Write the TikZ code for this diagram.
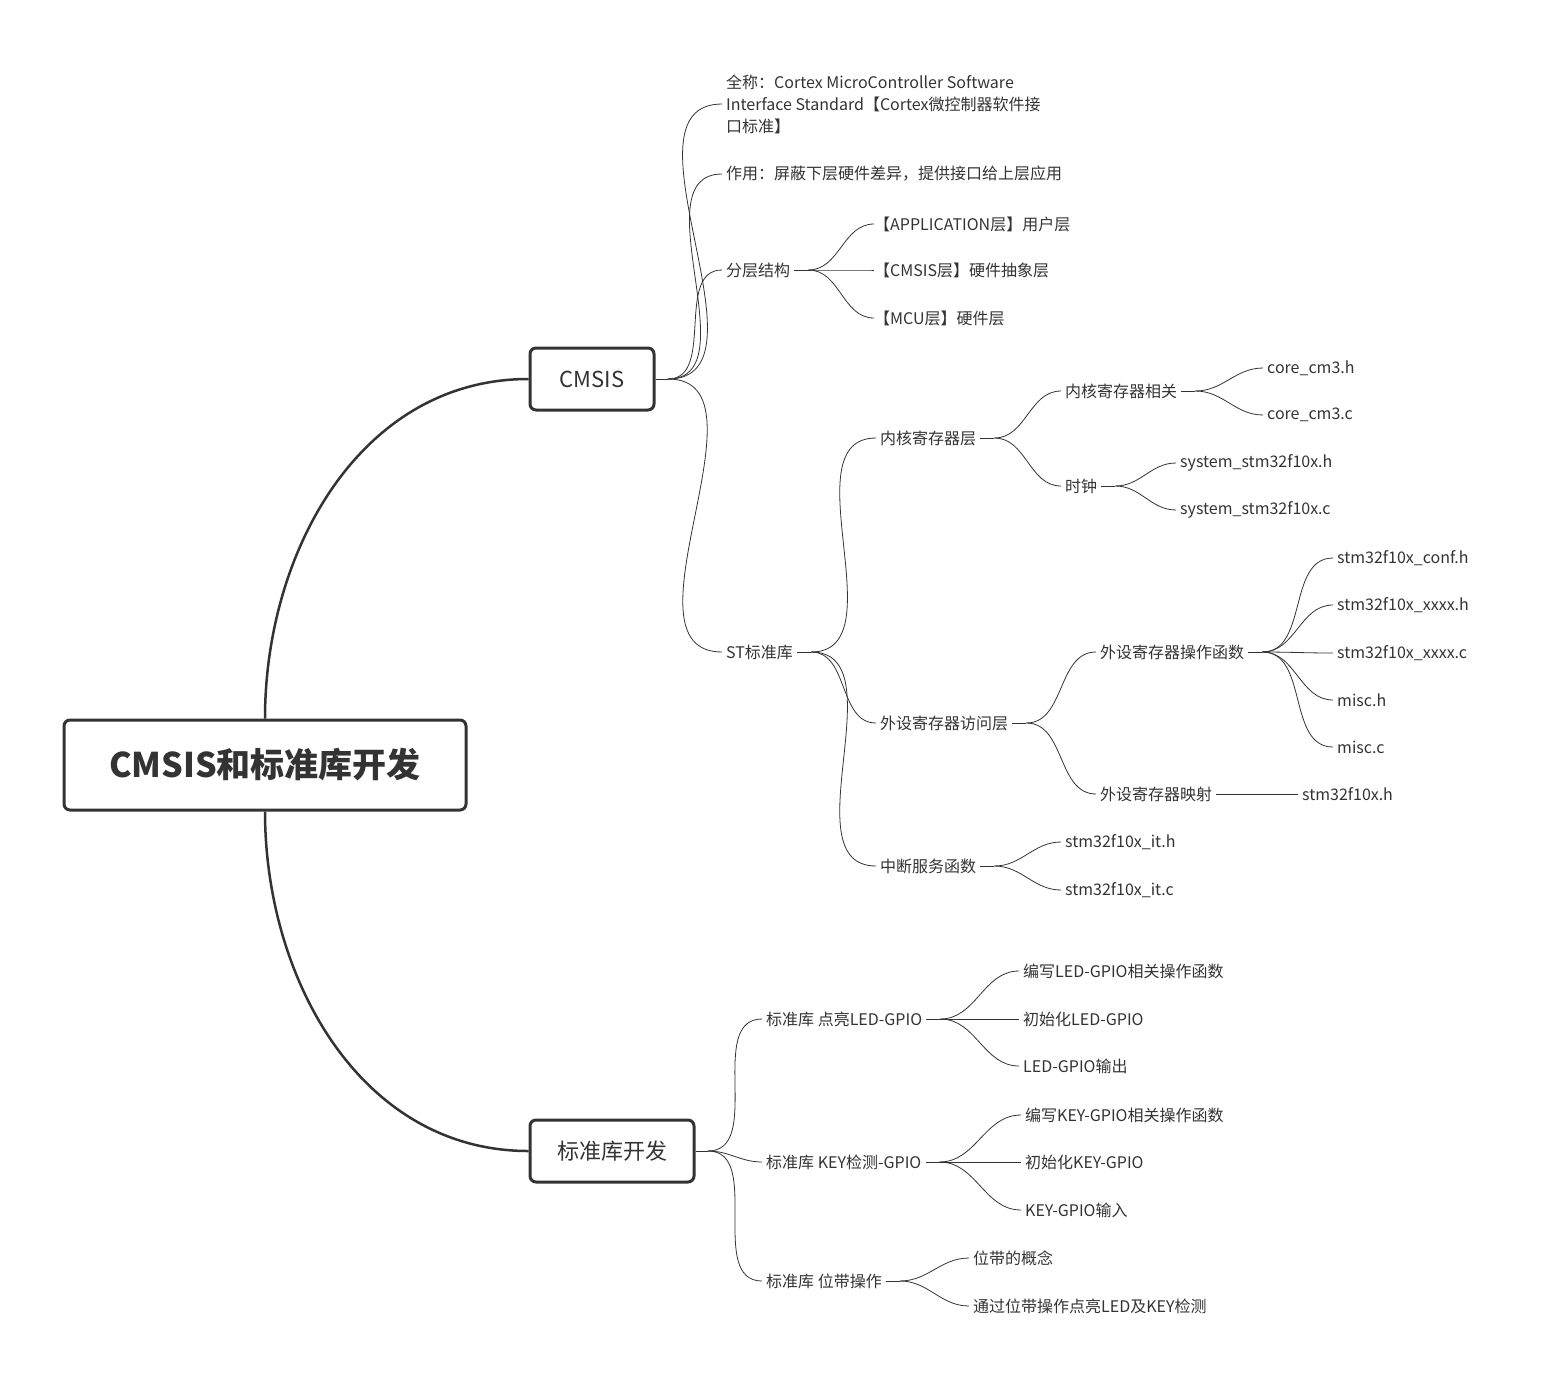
\documentclass[tikz,border=0pt]{standalone}
\usepackage{fontspec}
\setmainfont{Noto Sans CJK SC}
\definecolor{ink}{HTML}{333333}
\begin{document}
\begin{tikzpicture}[x=1pt,y=-1pt,
  t/.style={anchor=west,inner xsep=4pt,inner ysep=2pt,text=ink,font=\fontsize{16}{22}\selectfont},
  box/.style={draw=ink,line width=3pt,rounded corners=6pt,text=ink,fill=white},
  ln/.style={draw=ink,line width=0.8pt},
  br/.style={ln,out=0,in=180}]
\useasboundingbox (0,0) rectangle (1558,1387);
% root
\node[box,minimum width=402pt,minimum height=90pt,font=\fontsize{34}{40}\selectfont\bfseries] (root) at (265,765) {CMSIS和标准库开发};
\node[box,minimum width=124pt,minimum height=62pt,font=\fontsize{22}{26}\selectfont] (cmsis) at (592,379) {CMSIS};
\node[box,minimum width=164pt,minimum height=62pt,font=\fontsize{22}{26}\selectfont] (std) at (612,1151) {标准库开发};
\draw[ln,line width=2.5pt] (root.north) to[out=90,in=180] (cmsis.west);
\draw[ln,line width=2.5pt] (root.south) to[out=-90,in=180] (std.west);
% CMSIS branch
\coordinate (fc) at (668,379);
\draw[ln] (cmsis.east) -- (fc);
\node[t,align=left] (n1) at (722,104) {全称：Cortex MicroController Software\\Interface Standard【Cortex微控制器软件接\\口标准】};
\node[t] (n2) at (722,174) {作用：屏蔽下层硬件差异，提供接口给上层应用};
\node[t] (n3) at (722,270) {分层结构};
\node[t] (n4) at (722,652) {ST标准库};
\foreach \c in {n1,n2,n3,n4} \draw[br] (fc) to (\c.west);
% 分层结构
\coordinate (f3) at ([xshift=14pt]n3.east);
\draw[ln] (n3.east) -- (f3);
\node[t,inner xsep=0pt] (a1) at (874,224) {【APPLICATION层】用户层};
\node[t,inner xsep=0pt] (a2) at (874,270) {【CMSIS层】硬件抽象层};
\node[t,inner xsep=0pt] (a3) at (874,318) {【MCU层】硬件层};
\foreach \c in {a1,a2,a3} \draw[br] (f3) to (\c.west);
% ST标准库
\coordinate (f4) at ([xshift=14pt]n4.east);
\draw[ln] (n4.east) -- (f4);
\node[t] (b1) at (876,438) {内核寄存器层};
\node[t] (b2) at (876,723) {外设寄存器访问层};
\node[t] (b3) at (876,866) {中断服务函数};
\foreach \c in {b1,b2,b3} \draw[br] (f4) to (\c.west);
% 内核寄存器层
\coordinate (fb1) at ([xshift=14pt]b1.east);
\draw[ln] (b1.east) -- (fb1);
\node[t] (c1) at (1061,391) {内核寄存器相关};
\node[t] (c2) at (1061,486) {时钟};
\foreach \c in {c1,c2} \draw[br] (fb1) to (\c.west);
\coordinate (fc1) at ([xshift=14pt]c1.east);
\draw[ln] (c1.east) -- (fc1);
\node[t] (d1) at (1263,368) {core\_cm3.h};
\node[t] (d2) at (1263,415) {core\_cm3.c};
\foreach \c in {d1,d2} \draw[br] (fc1) to (\c.west);
\coordinate (fc2) at ([xshift=14pt]c2.east);
\draw[ln] (c2.east) -- (fc2);
\node[t] (d3) at (1176,463) {system\_stm32f10x.h};
\node[t] (d4) at (1176,510) {system\_stm32f10x.c};
\foreach \c in {d3,d4} \draw[br] (fc2) to (\c.west);
% 外设寄存器访问层
\coordinate (fb2) at ([xshift=14pt]b2.east);
\draw[ln] (b2.east) -- (fb2);
\node[t] (e1) at (1096,652) {外设寄存器操作函数};
\node[t] (e2) at (1096,794) {外设寄存器映射};
\foreach \c in {e1,e2} \draw[br] (fb2) to (\c.west);
\coordinate (fe1) at ([xshift=14pt]e1.east);
\draw[ln] (e1.east) -- (fe1);
\node[t] (g1) at (1333,558) {stm32f10x\_conf.h};
\node[t] (g2) at (1333,605) {stm32f10x\_xxxx.h};
\node[t] (g3) at (1333,653) {stm32f10x\_xxxx.c};
\node[t] (g4) at (1333,700) {misc.h};
\node[t] (g5) at (1333,747) {misc.c};
\foreach \c in {g1,g2,g3,g4,g5} \draw[br] (fe1) to (\c.west);
\node[t] (g6) at (1298,794) {stm32f10x.h};
\draw[ln] (e2.east) -- (g6.west);
% 中断服务函数
\coordinate (fb3) at ([xshift=14pt]b3.east);
\draw[ln] (b3.east) -- (fb3);
\node[t] (h1) at (1061,842) {stm32f10x\_it.h};
\node[t] (h2) at (1061,890) {stm32f10x\_it.c};
\foreach \c in {h1,h2} \draw[br] (fb3) to (\c.west);
% 标准库开发
\coordinate (fs) at (708,1151);
\draw[ln] (std.east) -- (fs);
\node[t] (s1) at (762,1019) {标准库 点亮LED-GPIO};
\node[t] (s2) at (762,1162) {标准库 KEY检测-GPIO};
\node[t] (s3) at (762,1281) {标准库 位带操作};
\foreach \c in {s1,s2,s3} \draw[br] (fs) to (\c.west);
\coordinate (fs1) at ([xshift=14pt]s1.east);
\draw[ln] (s1.east) -- (fs1);
\node[t] (l1) at (1019,971) {编写LED-GPIO相关操作函数};
\node[t] (l2) at (1019,1019) {初始化LED-GPIO};
\node[t] (l3) at (1019,1066) {LED-GPIO输出};
\foreach \c in {l1,l2,l3} \draw[br] (fs1) to (\c.west);
\coordinate (fs2) at ([xshift=14pt]s2.east);
\draw[ln] (s2.east) -- (fs2);
\node[t] (k1) at (1021,1115) {编写KEY-GPIO相关操作函数};
\node[t] (k2) at (1021,1162) {初始化KEY-GPIO};
\node[t] (k3) at (1021,1210) {KEY-GPIO输入};
\foreach \c in {k1,k2,k3} \draw[br] (fs2) to (\c.west);
\coordinate (fs3) at ([xshift=14pt]s3.east);
\draw[ln] (s3.east) -- (fs3);
\node[t] (w1) at (969,1258) {位带的概念};
\node[t] (w2) at (969,1306) {通过位带操作点亮LED及KEY检测};
\foreach \c in {w1,w2} \draw[br] (fs3) to (\c.west);
\end{tikzpicture}
\end{document}
